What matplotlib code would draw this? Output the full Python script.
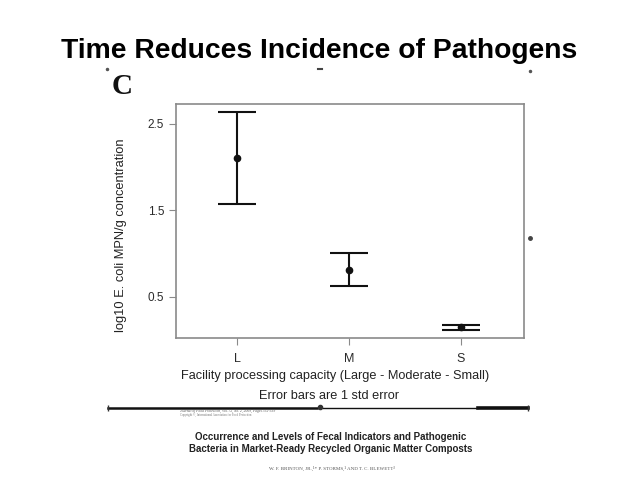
import matplotlib
matplotlib.use('Agg')
import matplotlib.pyplot as plt

# data
categories = ['L', 'M', 'S']
means = [2.11, 0.81, 0.15]
upper = [2.64, 1.01, 0.18]
lower = [1.58, 0.63, 0.12]
yticks = [0.5, 1.5, 2.5]

plt.rcParams['font.family'] = ['Liberation Sans', 'DejaVu Sans']

fig = plt.figure(figsize=(6.38, 4.78), dpi=100)
fig.patch.set_facecolor('white')

# decoration layer in pixel coords
deco = fig.add_axes([0, 0, 1, 1])
deco.set_xlim(0, 638)
deco.set_ylim(478, 0)
deco.axis('off')

ax = fig.add_axes([176 / 638, 1 - 338 / 478, 348 / 638, 234 / 478])

x = list(range(1, len(categories) + 1))
yerr = [[m - lo for m, lo in zip(means, lower)], [u - m for m, u in zip(means, upper)]]
ax.errorbar(x, means, yerr=yerr, fmt='o', color='#111111', ms=4.5,
            elinewidth=1.5, capsize=13.5, capthick=1.5)

ax.set_xlim(0.45, 3.565)
ax.set_ylim(0.026, 2.73)
ax.set_xticks(x)
ax.set_xticklabels(categories)
ax.set_yticks(yticks)
ax.set_yticklabels([str(t) for t in yticks])
for s in ax.spines.values():
    s.set_color('#8a8a8a')
    s.set_linewidth(1.2)
ax.tick_params(axis='both', colors='#8a8a8a', length=5, width=0.8, labelsize=8.5,
               labelcolor='#2a2a2a')
ax.tick_params(axis='x', pad=6, labelsize=9)
ax.set_ylabel('log10 E. coli MPN/g concentration', fontsize=9.3, color='#222222')
ax.yaxis.set_label_coords(-0.14, 0.44)
ax.set_xlabel('Facility processing capacity (Large - Moderate - Small)',
              fontsize=9.2, color='#222222')
ax.xaxis.set_label_coords(0.457, -0.136)
ax.text(0.441, -0.246, 'Error bars are 1 std error', transform=ax.transAxes,
        ha='center', va='center', fontsize=9.2, color='#222222')

# slide title
fig.text(319 / 638, 1 - 51 / 478, 'Time Reduces Incidence of Pathogens', ha='center',
         va='center', fontsize=20.3, fontweight='bold', color='black')
fig.text(112 / 638, 1 - 86 / 478, 'C', ha='left', va='center', fontsize=21,
         fontweight='bold', family='Liberation Serif', color='#111111')

# stray scan marks
deco.plot([107], [69], marker='o', ms=1.5, color='#555555')
deco.plot([318, 322], [69, 69], color='#444444', lw=1.5)
deco.plot([530], [71], marker='o', ms=1.5, color='#555555')
deco.plot([530], [238], marker='o', ms=2.5, color='#444444')

# separator rule
deco.plot([108, 317], [408, 408], color='#111111', lw=1.8)
deco.plot([323, 478], [408, 408], color='#111111', lw=1.0)
deco.plot([478, 528], [408, 408], color='#111111', lw=2.6)
deco.plot([320], [407], marker='o', ms=3, color='#333333')
deco.plot([108], [408], marker='|', ms=4, color='#333333')
deco.plot([528], [408], marker='|', ms=4, color='#333333')

# journal header
deco.text(180, 411, 'Journal of Food Protection, Vol. 72, No. 2, 2009, Pages 332-339',
          fontsize=2.6, style='italic', family='Liberation Serif', color='#555555',
          va='center')
deco.text(180, 414.5, 'Copyright \u00a9, International Association for Food Protection',
          fontsize=2.2, family='Liberation Serif', color='#777777', va='center')

deco.text(331, 437, 'Occurrence and Levels of Fecal Indicators and Pathogenic',
          ha='center', va='center', fontsize=7.0, fontweight='bold', color='#222222')
deco.text(331, 449, 'Bacteria in Market-Ready Recycled Organic Matter Composts',
          ha='center', va='center', fontsize=7.0, fontweight='bold', color='#222222')
deco.text(332, 468, 'W. F. BRINTON, JR.,\u00b9* P. STORMS,\u00b9 AND T. C. BLEWETT\u00b2',
          ha='center', va='center', fontsize=3.6, family='Liberation Serif',
          color='#555555')

fig.savefig('out.png', dpi=100, facecolor='white')
